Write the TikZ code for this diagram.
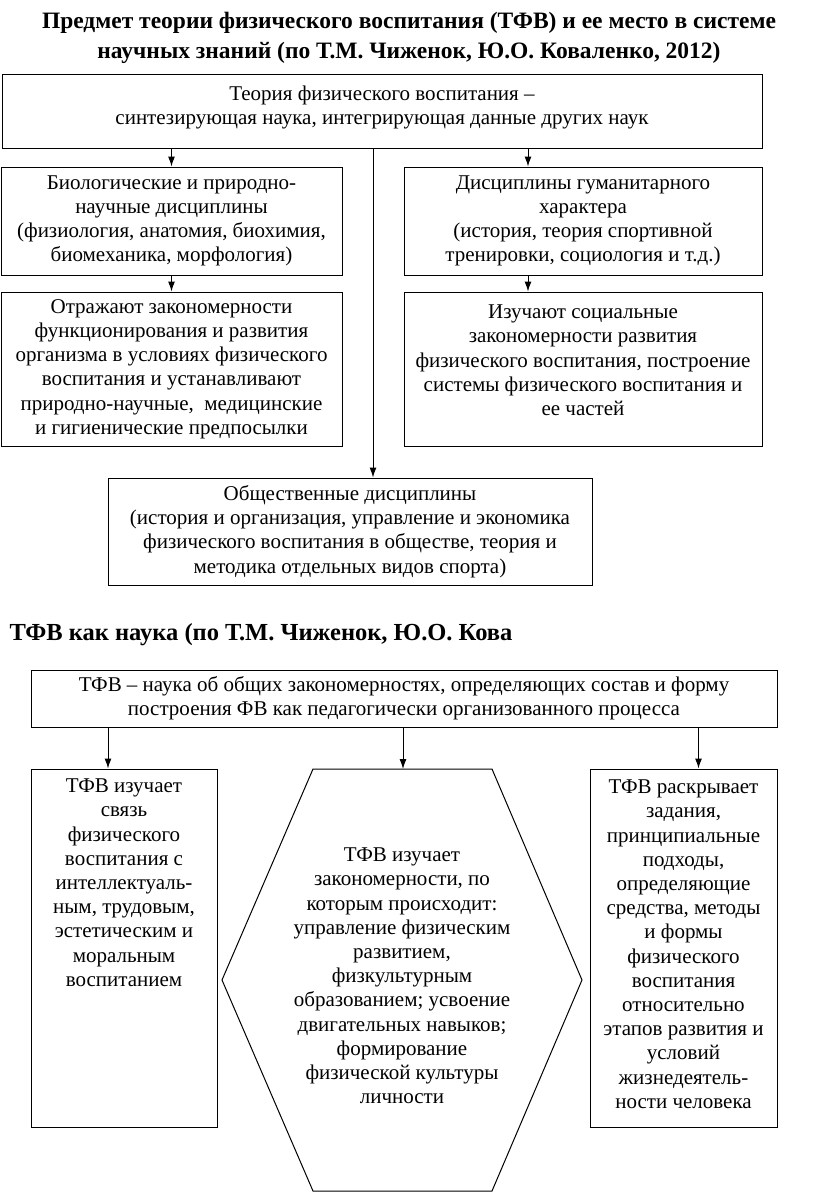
\documentclass[tikz,border=0pt]{standalone}
\usepackage{fontspec}
\setmainfont{Liberation Serif}
\usetikzlibrary{arrows.meta}

\begin{document}
\begin{tikzpicture}[x=1pt,y=-1pt]
    \tikzstyle{box}=[draw, line width=1pt, inner sep=0pt, align=center, font=\fontsize{21}{24.2}\selectfont]
    \tikzstyle{arr}=[line width=1pt, -{Latex[length=10pt,width=7pt]}]
    \tikzstyle{ttl}=[align=center, font=\fontsize{23.5}{30}\selectfont\bfseries]
    \useasboundingbox (0,0) rectangle (816,1192);

    % upper scheme
    \node[ttl] (title) at (409,38) {Предмет теории физического воспитания (ТФВ) и ее место в системе\\
        научных знаний (по Т.М. Чиженок, Ю.О. Коваленко, 2012)};
    \node[box, minimum width=760pt, minimum height=74pt] (theory) at (382,111)
        {\parbox[c][50pt][t]{750pt}{\centering Теория физического воспитания –\\синтезирующая наука, интегрирующая данные других наук}};
    \node[box, minimum width=341pt, minimum height=108pt] (bio) at (171.5,221)
        {Биологические и природно-\\научные дисциплины\\(физиология, анатомия, биохимия,\\биомеханика, морфология)};
    \node[box, minimum width=358pt, minimum height=108pt] (hum) at (583,221)
        {Дисциплины гуманитарного\\характера\\(история, теория спортивной\\тренировки, социология и т.д.)};
    \node[box, minimum width=341pt, minimum height=154pt] (biofun) at (171.5,369)
        {Отражают закономерности\\функционирования и развития\\организма в условиях физического\\воспитания и устанавливают\\природно-научные,\ \ медицинские\\и гигиенические предпосылки};
    \node[box, minimum width=358pt, minimum height=154pt] (humfun) at (583,369)
        {\parbox[c][128pt][t]{354pt}{\centering Изучают социальные\\закономерности развития\\физического воспитания, построение\\системы физического воспитания и\\ее частей}};
    \node[box, minimum width=484pt, minimum height=107pt] (social) at (350,531.5)
        {Общественные дисциплины\\(история и организация, управление и экономика\\физического воспитания в обществе, теория и\\методика отдельных видов спорта)};

    \draw[arr] (bio.north |- theory.south) -- (bio.north);
    \draw[arr] ([xshift=-55pt]hum.north |- theory.south) -- ([xshift=-55pt]hum.north);
    \draw[arr] ([xshift=23pt]social.north |- theory.south) -- ([xshift=23pt]social.north);
    \draw[arr] (bio.south) -- (biofun.north);
    \draw[arr] ([xshift=-55pt]hum.south) -- ([xshift=-55pt]humfun.north);

    % lower scheme
    \node[ttl, anchor=west, font=\fontsize{24.5}{28}\selectfont\bfseries] (title2) at (6,635)
        {ТФВ как наука (по Т.М. Чиженок, Ю.О. Кова};
    \node[box, minimum width=746pt, minimum height=57pt] (tfv) at (404,698.5)
        {ТФВ – наука об общих закономерностях, определяющих состав и форму\\построения ФВ как педагогически организованного процесса};
    \node[box, minimum width=186pt, minimum height=358pt] (links) at (124,948)
        {\parbox[c][338pt][t]{182pt}{\centering ТФВ изучает\\связь\\физического\\воспитания с\\интеллектуаль-\\ным, трудовым,\\эстетическим и\\моральным\\воспитанием}};
    \node[box, minimum width=187pt, minimum height=358pt] (tasks) at (683.5,948)
        {\parbox[c][336pt][t]{183pt}{\centering ТФВ раскрывает\\задания,\\принципиальные\\подходы,\\определяющие\\средства, методы\\и формы\\физического\\воспитания\\относительно\\этапов развития и\\условий\\жизнедеятель-\\ности человека}};
    \draw[line width=1pt] (313,769) -- (492,769) -- (582,980) -- (492,1191) -- (313,1191) -- (222,980) -- cycle;
    \coordinate (hextop) at (403,769);
    \node[align=center, font=\fontsize{21}{24.2}\selectfont] (laws) at (402,976)
        {ТФВ изучает\\закономерности, по\\которым происходит:\\управление физическим\\развитием,\\физкультурным\\образованием; усвоение\\двигательных навыков;\\формирование\\физической культуры\\личности};

    \draw[arr] ([xshift=-16pt]links.north |- tfv.south) -- ([xshift=-16pt]links.north);
    \draw[arr] (hextop |- tfv.south) -- (hextop);
    \draw[arr] ([xshift=15pt]tasks.north |- tfv.south) -- ([xshift=15pt]tasks.north);
\end{tikzpicture}
\end{document}
